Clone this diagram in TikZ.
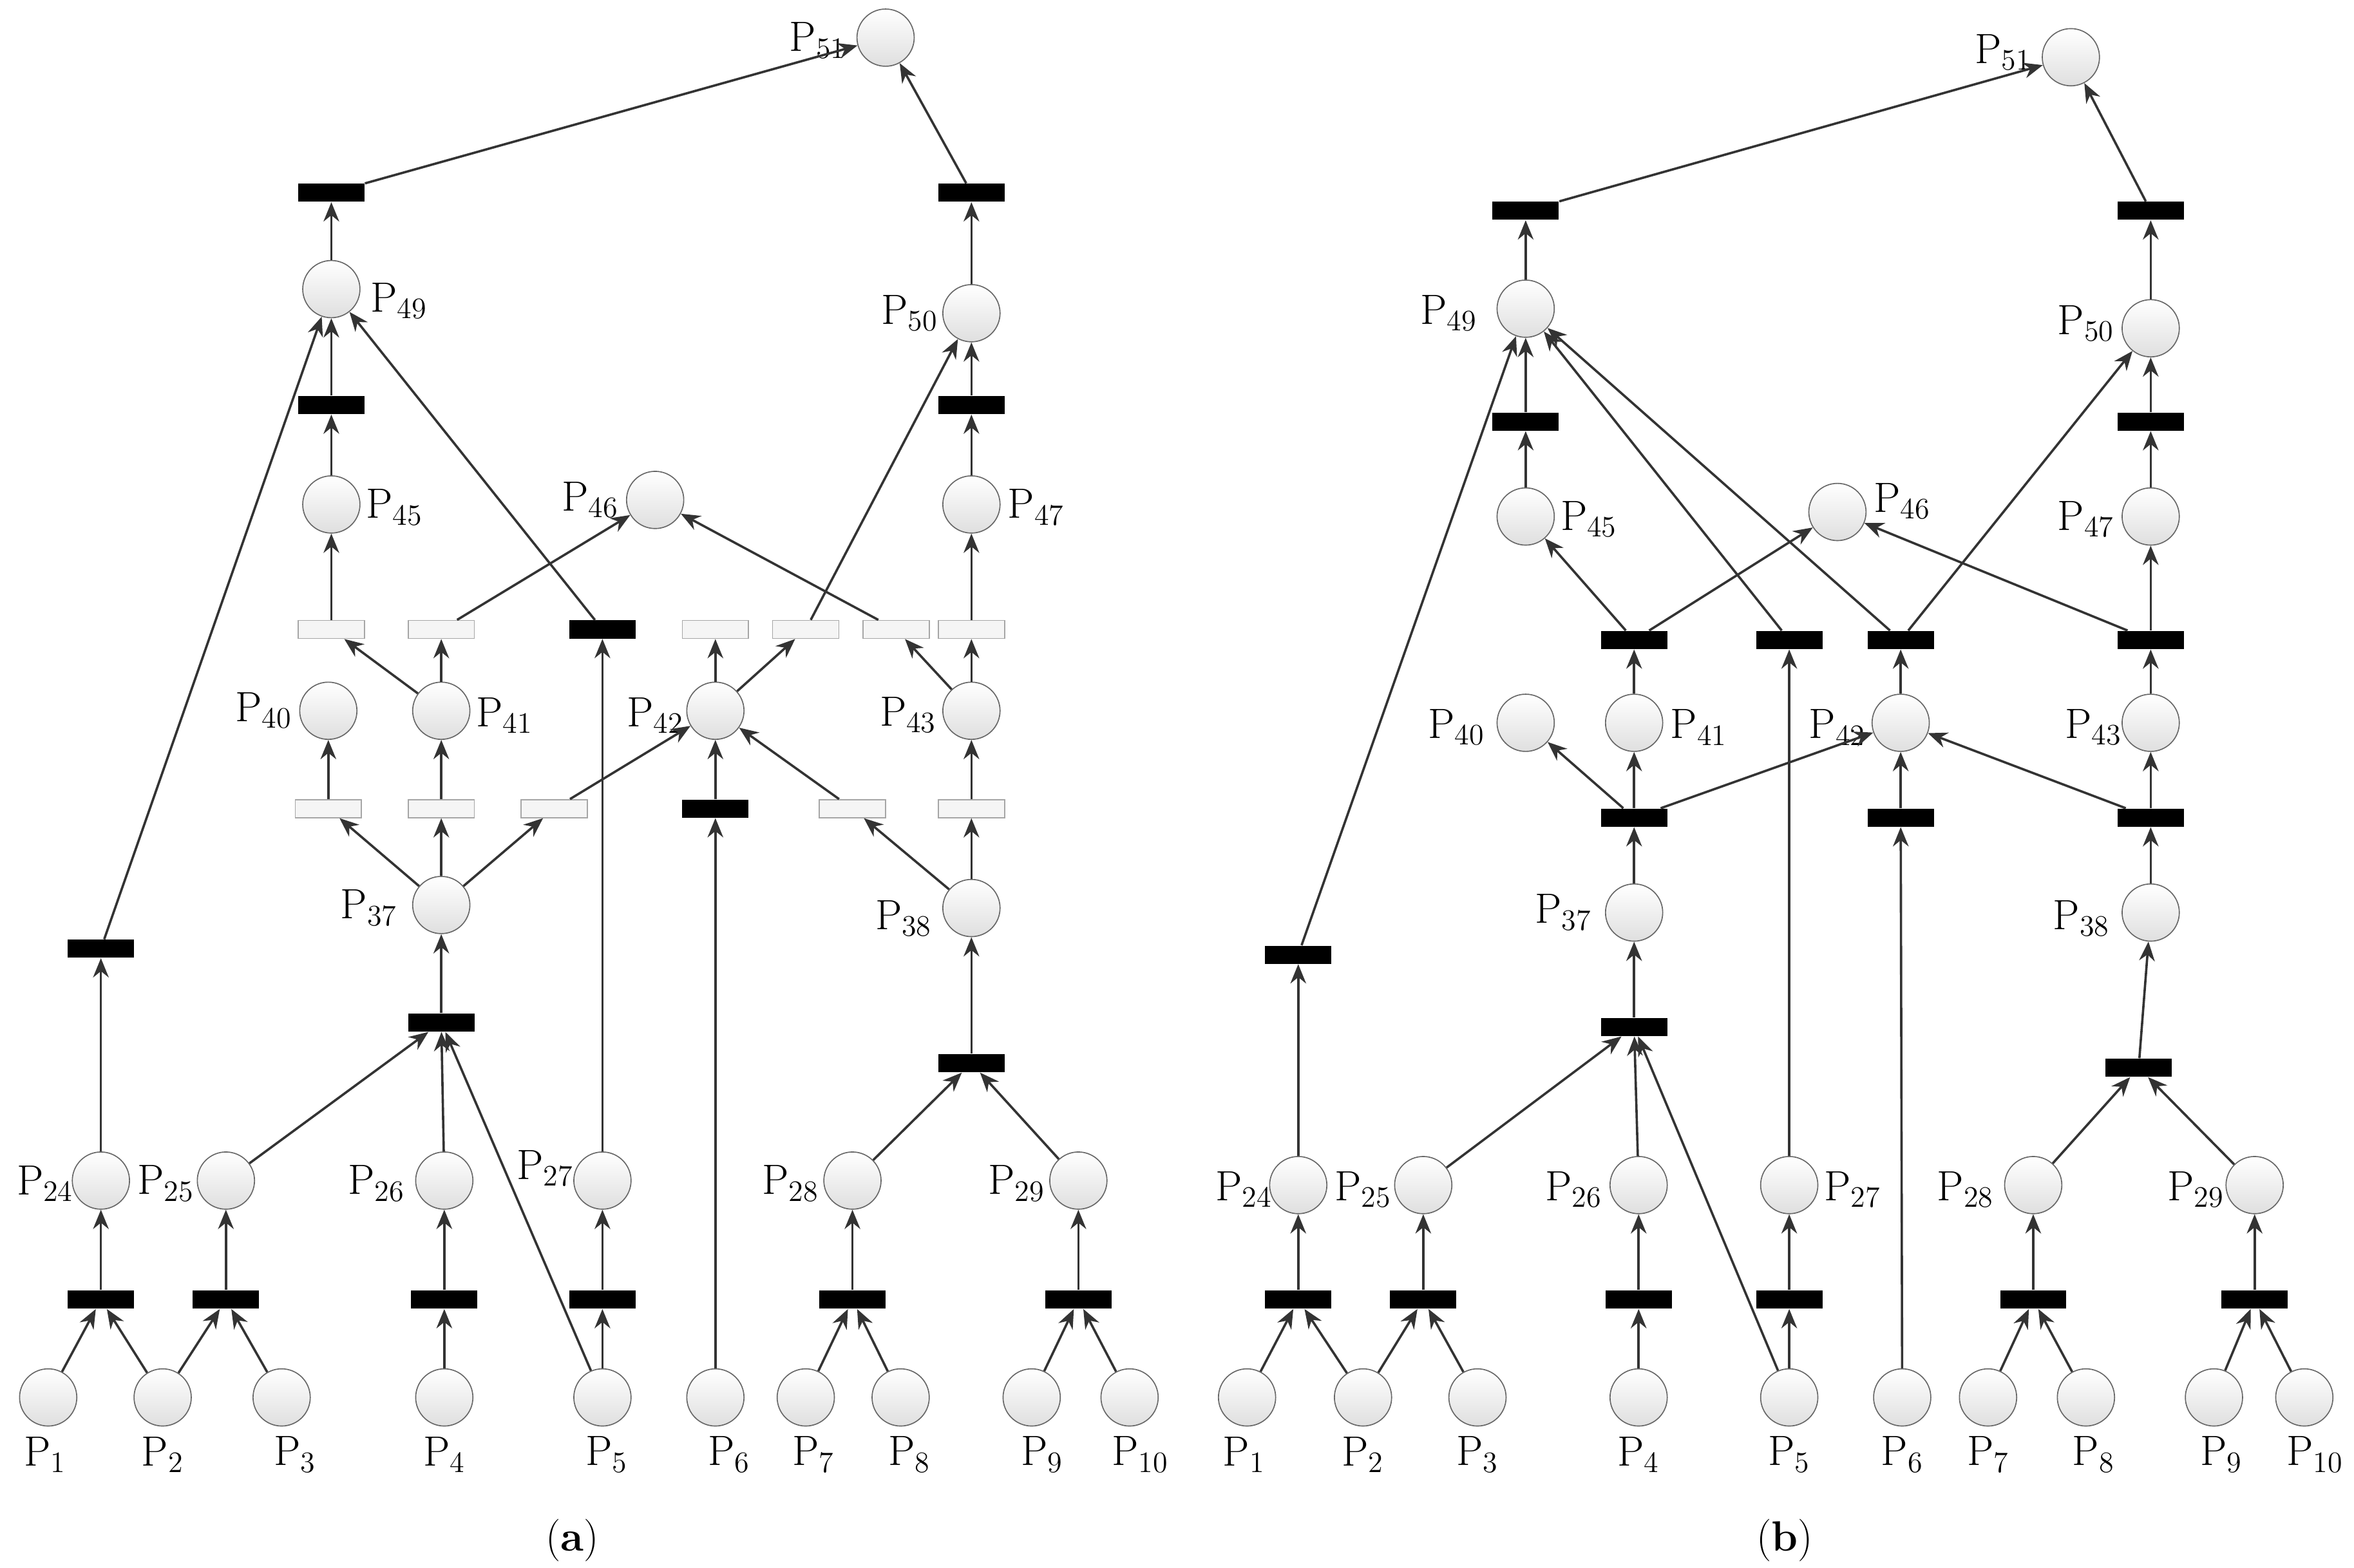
\documentclass[tikz,border=0pt]{standalone}
\usetikzlibrary{arrows.meta}
\newcommand\Pl[1]{P\textsubscript{#1}}
\begin{document}
\begin{tikzpicture}[x=0.25mm,y=-0.25mm,
 pl/.style={circle,draw=gray!80!black,line width=0.5pt,top color=white,bottom color=gray!25,minimum size=9.5mm,inner sep=0},
 tb/.style={rectangle,fill=black,minimum width=11mm,minimum height=3mm,inner sep=0},
 tw/.style={rectangle,draw=gray!70,fill=gray!8,line width=0.5pt,minimum width=11mm,minimum height=3mm,inner sep=0},
 lab/.style={font=\fontsize{20}{22}\selectfont,inner sep=0},
 ar/.style={-{Stealth[length=3.2mm,width=2.6mm]},line width=1.1pt,draw=black!80}]
\useasboundingbox (0,0) rectangle (1563,1041);
% ================= (a) =================
\foreach \n/\x in {1/32,2/108,3/187,4/295,5/400,6/475,7/535,8/598,9/685,10/750}
  \node[pl] (aP\n) at (\x,928) {};
\foreach \n/\x in {1/30,2/108,3/196,4/295,5/403,6/484,7/540,8/604,9/692,10/757}
  \node[lab] (alP\n) at (\x,966) {\Pl{\n}};
\foreach \n/\x in {1/67,2/150,3/295,4/400,5/566,6/716}
  \node[tb] (aT\n) at (\x,863) {};
\foreach \n/\x in {24/67,25/150,26/295,27/400,28/566,29/716}
  \node[pl] (aP\n) at (\x,784) {};
\node[tb] (aTa) at (67,630) {};
\node[tb] (aTb) at (293,679) {};
\node[tb] (aTc) at (645,706) {};
\node[pl] (aP37) at (293,601) {};
\node[pl] (aP38) at (645,603) {};
\node[tw] (aW1) at (218,537) {};
\node[tw] (aW2) at (293,537) {};
\node[tw] (aW3) at (368,537) {};
\node[tb] (aW4) at (475,537) {};
\node[tw] (aW5) at (566,537) {};
\node[tw] (aW6) at (645,537) {};
\node[pl] (aP40) at (218,472) {};
\node[pl] (aP41) at (293,472) {};
\node[pl] (aP42) at (475,472) {};
\node[pl] (aP43) at (645,472) {};
\node[tw] (aW7) at (220,418) {};
\node[tw] (aW8) at (293,418) {};
\node[tb] (aB27) at (400,418) {};
\node[tw] (aW9) at (475,418) {};
\node[tw] (aW10) at (535,418) {};
\node[tw] (aW11) at (595,418) {};
\node[tw] (aW12) at (645,418) {};
\node[pl] (aP45) at (220,335) {};
\node[pl] (aP46) at (435,332) {};
\node[pl] (aP47) at (645,335) {};
\node[tb] (aT45) at (220,269) {};
\node[tb] (aT47) at (645,269) {};
\node[pl] (aP49) at (220,192) {};
\node[pl] (aP50) at (645,208) {};
\node[tb] (aT49) at (220,128) {};
\node[tb] (aT50) at (645,128) {};
\node[pl] (aP51) at (588,25) {};
% labels (a)
\node[lab] at (30,786) {\Pl{24}};
\node[lab] at (110,786) {\Pl{25}};
\node[lab] at (250,786) {\Pl{26}};
\node[lab] at (362,776) {\Pl{27}};
\node[lab] at (525,786) {\Pl{28}};
\node[lab] at (675,786) {\Pl{29}};
\node[lab] at (245,603) {\Pl{37}};
\node[lab] at (600,610) {\Pl{38}};
\node[lab] at (175,472) {\Pl{40}};
\node[lab] at (335,475) {\Pl{41}};
\node[lab] at (435,475) {\Pl{42}};
\node[lab] at (603,475) {\Pl{43}};
\node[lab] at (262,337) {\Pl{45}};
\node[lab] at (392,332) {\Pl{46}};
\node[lab] at (688,337) {\Pl{47}};
\node[lab] at (265,200) {\Pl{49}};
\node[lab] at (604,208) {\Pl{50}};
\node[lab] at (543,27) {\Pl{51}};
\node[lab] at (380,1023) {(\textbf{a})};
% arcs (a)
\foreach \a/\b in {P1/T1,P2/T1,P2/T2,P3/T2,P4/T3,P5/T4,P7/T5,P8/T5,P9/T6,P10/T6,
 T1/P24,T2/P25,T3/P26,T4/P27,T5/P28,T6/P29,
 P24/Ta,P25/Tb,P26/Tb,P5/Tb,P28/Tc,P29/Tc,Tb/P37,Tc/P38,Ta/P49,
 P27/B27,B27/P49,P6/W4,W4/P42,
 P37/W1,P37/W2,P37/W3,W1/P40,W2/P41,W3/P42,P38/W5,W5/P42,P38/W6,W6/P43,
 P41/W7,P41/W8,W7/P45,W8/P46,P42/W9,P42/W10,W10/P50,P43/W11,W11/P46,P43/W12,W12/P47,
 P45/T45,T45/P49,P47/T47,T47/P50,P49/T49,P50/T50,T49/P51,T50/P51}
  \draw[ar] (a\a) -- (a\b);
% ================= (b) =================
\foreach \n/\x in {1/828,2/905,3/981,4/1088,5/1188,6/1263,7/1320,8/1385,9/1470,10/1530}
  \node[pl] (bP\n) at (\x,928) {};
\foreach \n/\x in {1/826,2/905,3/981,4/1088,5/1188,6/1263,7/1320,8/1390,9/1475,10/1537}
  \node[lab] at (\x,966) {\Pl{\n}};
\foreach \n/\x in {1/862,2/945,3/1088,4/1188,5/1350,6/1497}
  \node[tb] (bT\n) at (\x,863) {};
\foreach \n/\x in {24/862,25/945,26/1088,27/1188,28/1350,29/1497}
  \node[pl] (bP\n) at (\x,787) {};
\node[tb] (bTa) at (862,634) {};
\node[tb] (bTb) at (1085,682) {};
\node[tb] (bTc) at (1420,709) {};
\node[pl] (bP37) at (1085,606) {};
\node[pl] (bP38) at (1428,606) {};
\node[tb] (bU37) at (1085,543) {};
\node[tb] (bU6) at (1262,543) {};
\node[tb] (bU38) at (1428,543) {};
\node[pl] (bP40) at (1013,480) {};
\node[pl] (bP41) at (1085,480) {};
\node[pl] (bP42) at (1262,480) {};
\node[pl] (bP43) at (1428,480) {};
\node[tb] (bV41) at (1085,425) {};
\node[tb] (bV27) at (1188,425) {};
\node[tb] (bV42) at (1262,425) {};
\node[tb] (bV43) at (1428,425) {};
\node[pl] (bP45) at (1013,343) {};
\node[pl] (bP46) at (1220,340) {};
\node[pl] (bP47) at (1428,343) {};
\node[tb] (bT45) at (1013,280) {};
\node[tb] (bT47) at (1428,280) {};
\node[pl] (bP49) at (1013,205) {};
\node[pl] (bP50) at (1428,218) {};
\node[tb] (bT49) at (1013,140) {};
\node[tb] (bT50) at (1428,140) {};
\node[pl] (bP51) at (1375,38) {};
% labels (b)
\node[lab] at (826,790) {\Pl{24}};
\node[lab] at (905,790) {\Pl{25}};
\node[lab] at (1045,790) {\Pl{26}};
\node[lab] at (1230,790) {\Pl{27}};
\node[lab] at (1305,790) {\Pl{28}};
\node[lab] at (1458,790) {\Pl{29}};
\node[lab] at (1038,606) {\Pl{37}};
\node[lab] at (1382,610) {\Pl{38}};
\node[lab] at (967,483) {\Pl{40}};
\node[lab] at (1128,483) {\Pl{41}};
\node[lab] at (1220,483) {\Pl{42}};
\node[lab] at (1390,483) {\Pl{43}};
\node[lab] at (1055,345) {\Pl{45}};
\node[lab] at (1263,333) {\Pl{46}};
\node[lab] at (1385,345) {\Pl{47}};
\node[lab] at (962,208) {\Pl{49}};
\node[lab] at (1385,215) {\Pl{50}};
\node[lab] at (1330,35) {\Pl{51}};
\node[lab] at (1185,1023) {(\textbf{b})};
% arcs (b)
\foreach \a/\b in {P1/T1,P2/T1,P2/T2,P3/T2,P4/T3,P5/T4,P7/T5,P8/T5,P9/T6,P10/T6,
 T1/P24,T2/P25,T3/P26,T4/P27,T5/P28,T6/P29,
 P24/Ta,P25/Tb,P26/Tb,P5/Tb,P28/Tc,P29/Tc,Tb/P37,Tc/P38,Ta/P49,
 P27/V27,V27/P49,P6/U6,U6/P42,
 P37/U37,U37/P40,U37/P41,U37/P42,P38/U38,U38/P43,U38/P42,
 P41/V41,V41/P45,V41/P46,P42/V42,V42/P49,V42/P50,P43/V43,V43/P46,V43/P47,
 P45/T45,T45/P49,P47/T47,T47/P50,P49/T49,P50/T50,T49/P51,T50/P51}
  \draw[ar] (b\a) -- (b\b);
\end{tikzpicture}
\end{document}
